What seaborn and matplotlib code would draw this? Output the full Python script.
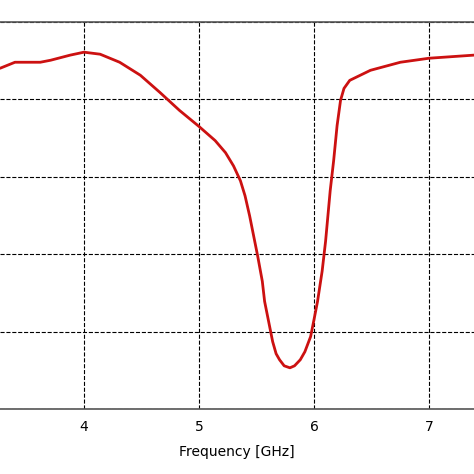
import numpy as np
import pandas as pd
import matplotlib
matplotlib.use('Agg')
import matplotlib.pyplot as plt
import seaborn as sns

freq = [3.27, 3.40, 3.62, 3.71, 3.88, 4.00, 4.14, 4.31, 4.49, 4.66, 4.83, 5.00,
        5.14, 5.23, 5.30, 5.36, 5.40, 5.44, 5.51, 5.55, 5.57, 5.64, 5.67, 5.70, 5.74, 5.79,
        5.83, 5.88, 5.92, 5.97, 6.00, 6.03, 6.07, 6.10, 6.14, 6.17, 6.20, 6.23, 6.26, 6.31,
        6.49, 6.75, 7.00, 7.39]
s11 = [-2.99, -2.60, -2.60, -2.47, -2.14, -1.95, -2.08, -2.60, -3.44, -4.55, -5.71, -6.75,
       -7.66, -8.44, -9.30, -10.26, -11.23, -12.53, -15.13, -16.75, -18.05, -20.65, -21.43, -21.82,
       -22.21, -22.34, -22.21, -21.82, -21.30, -20.32, -19.20, -18.05, -16.10, -14.16, -10.90,
       -8.96, -6.69, -5.06, -4.29, -3.77, -3.12, -2.60, -2.34, -2.14]
xticks = [4, 5, 6, 7]
yticks = [-25, -20, -15, -10, -5, 0]

sns.set_style('white')
plt.rcParams['font.family'] = ['DejaVu Sans']

fig = plt.figure(figsize=(4.74, 4.74), dpi=100)
ax = fig.add_axes([0.0, 1 - 409 / 474, 1.0, (409 - 22) / 474])

df = pd.DataFrame({'f': freq, 's11': s11})
sns.lineplot(data=df, x='f', y='s11', ax=ax, color='#cc1111', linewidth=2)

ax.set_xlim(3.27, 7.39)
ax.set_ylim(-25, 0)
ax.set_xticks(xticks)
ax.set_yticks(yticks)
ax.set_yticklabels([])
ax.grid(True, linestyle='--', color='black', linewidth=0.8)
ax.tick_params(axis='x', length=0, labelsize=10, pad=8, labelcolor='black')
ax.tick_params(axis='y', length=0)
for side in ['left', 'right']:
    ax.spines[side].set_visible(False)
for side in ['top', 'bottom']:
    ax.spines[side].set_color('#555555')
    ax.spines[side].set_linewidth(1.2)
ax.set_xlabel('Frequency [GHz]', fontsize=10, labelpad=8, color='black')
ax.set_ylabel('')

fig.savefig('out.png', dpi=100)
